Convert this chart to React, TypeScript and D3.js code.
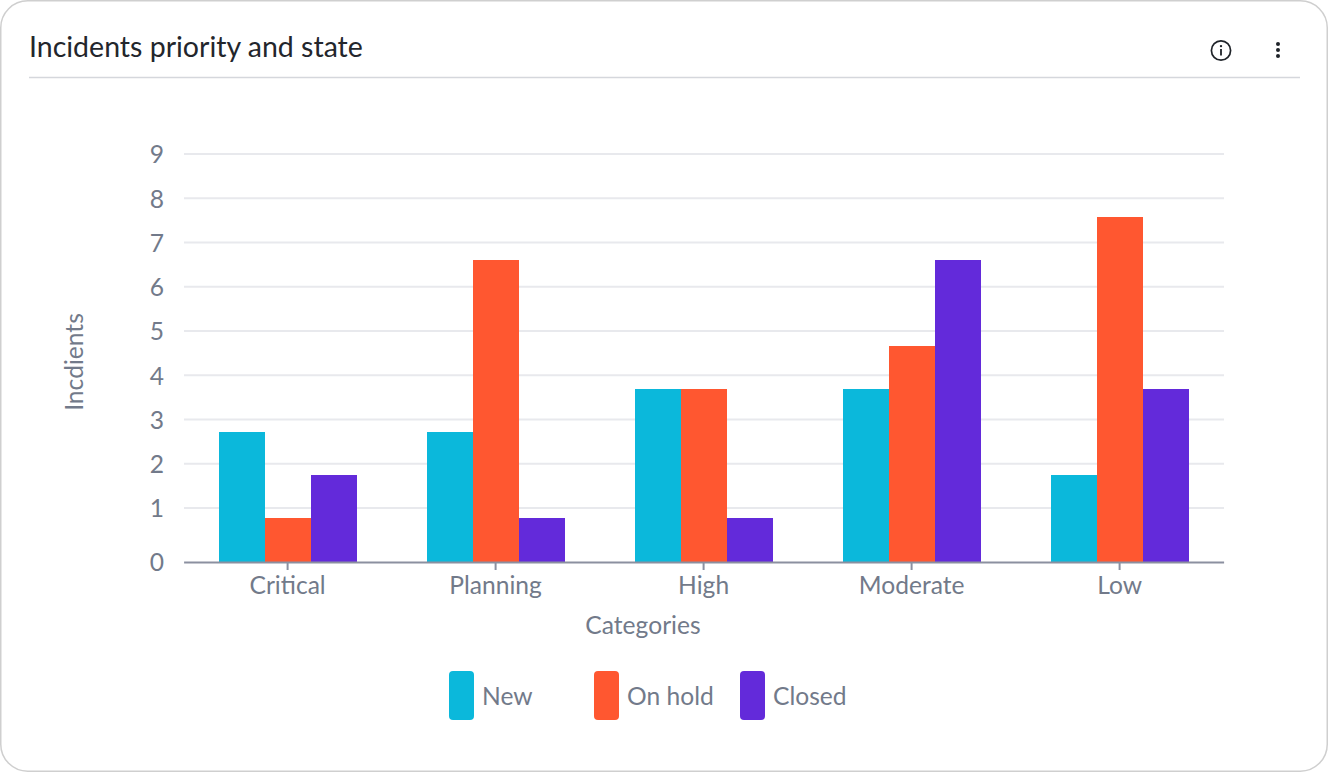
import * as d3 from "d3";
import { useEffect, useRef } from "react";

const categories = ["Critical", "Planning", "High", "Moderate", "Low"];
const seriesNames = ["New", "On hold", "Closed"];
const seriesColors = ["#0bb8db", "#ff5730", "#632ada"];
const newValues = [2.72, 2.72, 3.69, 3.69, 1.75];
const onHoldValues = [0.81, 6.6, 3.69, 4.66, 7.57];
const closedValues = [1.75, 0.81, 0.81, 6.6, 3.69];
const yTicks = [0, 1, 2, 3, 4, 5, 6, 7, 8, 9];
const legendX = [449, 594, 740];

const textColor = "#727a8a";
const font = "Lato, sans-serif";
const labelSize = 24.6;

const App = () => {
    const svgRef = useRef<SVGSVGElement>(null);

    useEffect(() => {
        if (!svgRef.current) return;
        const svg = d3.select(svgRef.current);
        svg.selectAll("*").remove();

        // card
        svg.append("rect")
            .attr("x", 0.75).attr("y", 0.75)
            .attr("width", 1326.5).attr("height", 770.5)
            .attr("rx", 27)
            .attr("fill", "#fff")
            .attr("stroke", "#cfcfcf")
            .attr("stroke-width", 1.5);

        svg.append("text")
            .attr("x", 29).attr("y", 57)
            .attr("font-size", 28.5)
            .attr("fill", "#23262c")
            .text("Incidents priority and state");

        svg.append("line")
            .attr("x1", 29).attr("x2", 1300)
            .attr("y1", 77.5).attr("y2", 77.5)
            .attr("stroke", "#d5d7dc")
            .attr("stroke-width", 1.5);

        // info icon
        const info = svg.append("g").attr("transform", "translate(1221,50.5)");
        info.append("circle").attr("r", 9.6).attr("fill", "none").attr("stroke", "#1f2329").attr("stroke-width", 1.7);
        info.append("rect").attr("x", -0.9).attr("y", -1.5).attr("width", 1.8).attr("height", 6.5).attr("fill", "#1f2329");
        info.append("circle").attr("cy", -4.4).attr("r", 1.2).attr("fill", "#1f2329");

        // more icon
        svg.append("g")
            .selectAll("circle")
            .data([-6, 0, 6])
            .enter()
            .append("circle")
            .attr("cx", 1278)
            .attr("cy", (d) => 50 + d)
            .attr("r", 2)
            .attr("fill", "#1f2329");

        const x = d3.scaleBand()
            .domain(categories)
            .range([183.6, 1223.6])
            .paddingInner(70 / 208)
            .paddingOuter(35 / 208);

        const x1 = d3.scaleBand()
            .domain(seriesNames)
            .range([0, x.bandwidth()]);

        // the first interval of the axis is taller than the others
        const y = d3.scaleLinear()
            .domain([0, 1, 9])
            .range([562, 508, 154]);

        // grid
        svg.append("g")
            .selectAll("line")
            .data(yTicks.filter((d) => d > 0))
            .enter()
            .append("line")
            .attr("x1", 184).attr("x2", 1224)
            .attr("y1", (d) => y(d)).attr("y2", (d) => y(d))
            .attr("stroke", "#e8e9ed")
            .attr("stroke-width", 2);

        // bars
        const seriesValues = [newValues, onHoldValues, closedValues];
        seriesNames.forEach((name, i) => {
            svg.append("g")
                .attr("shape-rendering", "crispEdges")
                .selectAll("rect")
                .data(categories)
                .enter()
                .append("rect")
                .attr("x", (c) => x(c)! + x1(name)!)
                .attr("y", (_c, j) => y(seriesValues[i][j]))
                .attr("width", x1.bandwidth())
                .attr("height", (_c, j) => y(0) - y(seriesValues[i][j]))
                .attr("fill", seriesColors[i]);
        });

        // axes
        const xAxis = svg.append("g")
            .attr("transform", "translate(0,562)")
            .call(d3.axisBottom(x).tickSize(8).tickSizeOuter(0).tickPadding(6.5));
        xAxis.select(".domain").attr("stroke", "#8b90a0").attr("stroke-width", 2);
        xAxis.selectAll(".tick line").attr("stroke", "#8b90a0").attr("stroke-width", 2);
        xAxis.selectAll(".tick text")
            .attr("fill", textColor)
            .style("font-size", `${labelSize}px`)
            .style("font-family", font);

        const yAxis = svg.append("g")
            .attr("transform", "translate(184,1)")
            .call(d3.axisLeft(y).tickValues(yTicks).tickFormat(d3.format("d")).tickSize(0).tickPadding(20));
        yAxis.select(".domain").remove();
        yAxis.selectAll(".tick text")
            .attr("fill", textColor)
            .style("font-size", `${labelSize}px`)
            .style("font-family", font);

        // axis titles
        svg.append("text")
            .attr("x", 643).attr("y", 634)
            .attr("text-anchor", "middle")
            .attr("font-size", labelSize)
            .attr("fill", textColor)
            .text("Categories");

        svg.append("text")
            .attr("transform", "translate(83,362) rotate(-90)")
            .attr("text-anchor", "middle")
            .attr("font-size", labelSize)
            .attr("fill", textColor)
            .text("Incdients");

        // legend
        const legend = svg.append("g")
            .selectAll("g")
            .data(seriesNames)
            .enter()
            .append("g")
            .attr("transform", (_d, i) => `translate(${legendX[i]},671)`);
        legend.append("rect")
            .attr("width", 25).attr("height", 49)
            .attr("rx", 4)
            .attr("fill", (_d, i) => seriesColors[i]);
        legend.append("text")
            .attr("x", 33).attr("y", 33.5)
            .attr("font-size", labelSize)
            .attr("fill", textColor)
            .text((d) => d);
    }, []);

    return (
        <svg
            ref={svgRef}
            width={1328}
            height={772}
            fontFamily={font}
            style={{ position: "absolute", left: 0, top: 0 }}
        />
    );
};

export default App;
